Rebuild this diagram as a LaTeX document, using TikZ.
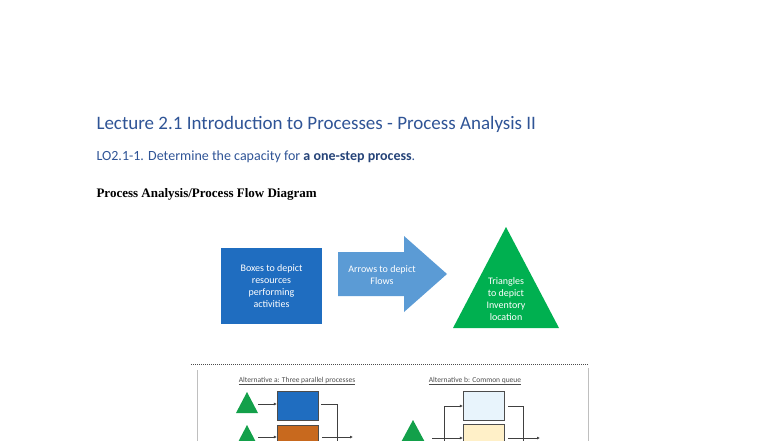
\documentclass[tikz,border=0pt]{standalone}
\usepackage{fontspec}
\setmainfont{Carlito}
\newfontfamily\serifb{Liberation Serif}
\usetikzlibrary{arrows.meta}
\definecolor{ttl}{HTML}{2F5496}
\definecolor{bbox}{HTML}{1F6DC0}
\definecolor{barr}{HTML}{5B9BD5}
\definecolor{grn}{HTML}{00B050}
\definecolor{sgrn}{HTML}{13A04A}
\begin{document}
\begin{tikzpicture}[x=1pt,y=-1pt,
  wtxt/.style={text=white,font=\fontsize{10}{12}\selectfont,align=center},
  small/.style={font=\fontsize{7.5}{9}\selectfont,text=black!70},
  flow/.style={draw=black!75,line width=0.6pt,-{Latex[length=3pt,width=3pt]}},
  ln/.style={draw=black!75,line width=0.6pt}]
\useasboundingbox (0,0) rectangle (784,441);
\node[anchor=west,text=ttl,font=\fontsize{19}{22}\selectfont] (t1) at (93,124) {Lecture 2.1 Introduction to Processes - Process Analysis II};
\node[anchor=west,text=ttl,font=\fontsize{14}{16}\selectfont] (t2) at (93,157) {LO2.1-1. Determine the capacity for \textcolor{ttl!80!black}{\textbf{a one-step process}}.};
\node[anchor=west,font=\serifb\bfseries\fontsize{13}{15}\selectfont] (t3) at (93,194) {Process Analysis/Process Flow Diagram};
% box
\fill[bbox] (221,248) rectangle (322,324);
\node[wtxt] (box) at (271.5,286) {Boxes to depict\\resources\\performing\\activities};
% arrow
\fill[barr] (338,252) -- (404,252) -- (404,236) -- (447,274) -- (404,312) -- (404,296) -- (338,296) -- cycle;
\node[wtxt] (arr) at (382,275) {Arrows to depict\\Flows};
% triangle
\fill[grn] (506,227) -- (559,328) -- (453,328) -- cycle;
\node[wtxt,anchor=north] (tri) at (506,274) {Triangles\\to depict\\Inventory\\location};
% bottom figure
\draw[black!70,densely dotted,line width=1pt] (191,364) -- (589,364);
\draw[black!25,line width=0.8pt] (197,370) -- (197,441);
\draw[black!25,line width=0.8pt] (588,368) -- (588,441);
\node[small] (la) at (297,381) {\underline{Alternative a: Three parallel processes}};
\node[small] (lb) at (475,381) {\underline{Alternative b: Common queue}};
% alt a
\fill[sgrn] (247,392) -- (258,413) -- (236,413) -- cycle;
\fill[sgrn] (247,425) -- (258,446) -- (236,446) -- cycle;
\node[draw=black!70,fill=bbox,minimum width=41pt,minimum height=29pt,inner sep=0] (a1) at (297.5,405.5) {};
\node[draw=black!70,fill={rgb,255:red,200;green,105;blue,30},minimum width=41pt,minimum height=29pt,inner sep=0,anchor=north] (a2) at (297.5,425) {};
\coordinate (ta1) at (258,404);
\coordinate (ta2) at (258,437);
\draw[flow] (ta1) -- (a1.west |- ta1);
\draw[flow] (ta2) -- (a2.west |- ta2);
\coordinate (va) at (337,404);
\coordinate (oa) at (353,437);
\draw[ln] (a1.east |- va) ++(3,0) -- (va) -- (337,441);
\draw[ln] (322,437) -- (337,437);
\draw[flow] (337,437) -- (oa);
% alt b
\node[draw=black!70,fill={rgb,255:red,232;green,244;blue,252},minimum width=41pt,minimum height=29pt,inner sep=0] (b1) at (483.5,405.5) {};
\node[draw=black!70,fill={rgb,255:red,255;green,240;blue,200},minimum width=41pt,minimum height=29pt,inner sep=0,anchor=north] (b2) at (483.5,424) {};
\fill[sgrn] (413,420) -- (427,446) -- (399,446) -- cycle;
\coordinate (vb) at (444,406);
\draw[ln] (432,438) -- (444,438);
\draw[ln] (444,441) -- (vb);
\draw[flow] (vb) -- (b1.west |- vb);
\draw[flow] (444,438) -- (b2.west |- 0,438);
\coordinate (wb) at (523,406);
\draw[ln] (508,406) -- (wb) -- (523,441);
\draw[ln] (508,438) -- (523,438);
\draw[flow] (523,438) -- (540,438);
\end{tikzpicture}
\end{document}
